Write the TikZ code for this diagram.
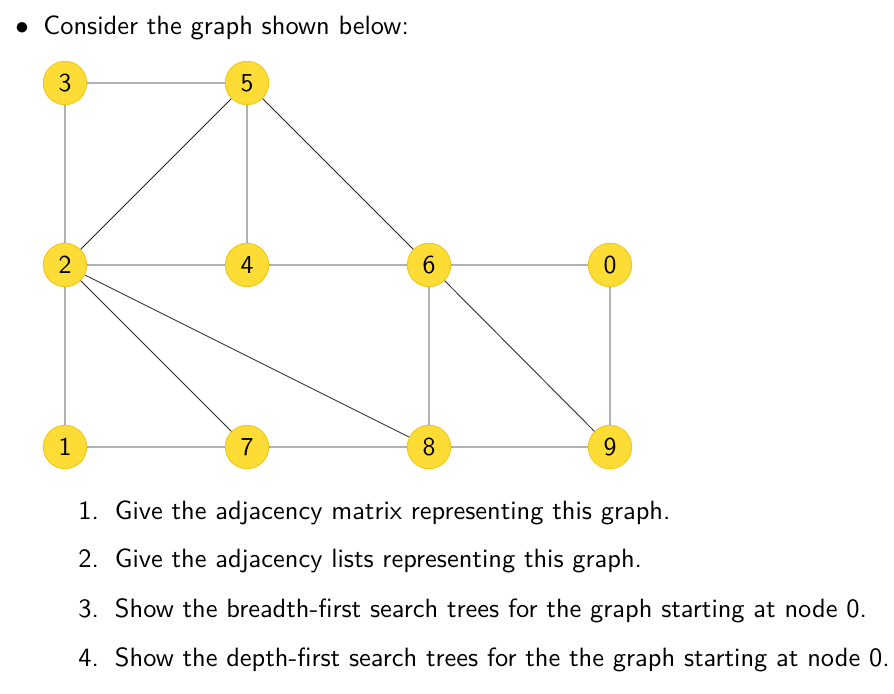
\documentclass[tikz,border=0pt]{standalone}
\usepackage{tikz}
\usetikzlibrary{positioning}
\definecolor{nodeyellow}{HTML}{FDDD35}
\definecolor{nodeedge}{HTML}{F2C81E}
\tikzset{
  vertex/.style={circle,fill=nodeyellow,draw=nodeedge,minimum size=0.62cm,inner sep=0pt,font=\sffamily\fontsize{10.5}{13}\selectfont},
  item/.style={anchor=base west,inner sep=0pt,font=\sffamily\fontsize{10.75}{13}\selectfont}
}
\begin{document}
\begin{tikzpicture}[x=0.0143cm,y=-0.0143cm]
\useasboundingbox (0,0) rectangle (894,694);
% graph vertices
\node[vertex] (v3) at (65,83) {3};
\node[vertex] (v5) at (247,83) {5};
\node[vertex] (v2) at (65,265) {2};
\node[vertex] (v4) at (247,265) {4};
\node[vertex] (v6) at (429,265) {6};
\node[vertex] (v0) at (610,265) {0};
\node[vertex] (v1) at (65,447) {1};
\node[vertex] (v7) at (247,447) {7};
\node[vertex] (v8) at (429,447) {8};
\node[vertex] (v9) at (610,447) {9};
% edges
\draw[line width=0.35pt,black!85] (v3) -- (v5) (v3) -- (v2) (v5) -- (v2) (v5) -- (v4) (v5) -- (v6)
  (v2) -- (v4) (v4) -- (v6) (v6) -- (v0) (v2) -- (v1) (v2) -- (v7) (v2) -- (v8)
  (v6) -- (v8) (v6) -- (v9) (v0) -- (v9) (v1) -- (v7) (v7) -- (v8) (v8) -- (v9);
% text
\node[item] (intro) at (15,35) {$\bullet$\hspace{0.55em}Consider the graph shown below:};
\node[item] (q1) at (78,520) {1.\hspace{0.6em}Give the adjacency matrix representing this graph.};
\node[item] (q2) at (78,568) {2.\hspace{0.6em}Give the adjacency lists representing this graph.};
\node[item] (q3) at (78,618) {3.\hspace{0.6em}Show the breadth-first search trees for the graph starting at node 0.};
\node[item] (q4) at (78,667) {4.\hspace{0.6em}Show the depth-first search trees for the the graph starting at node 0.};
\end{tikzpicture}
\end{document}
